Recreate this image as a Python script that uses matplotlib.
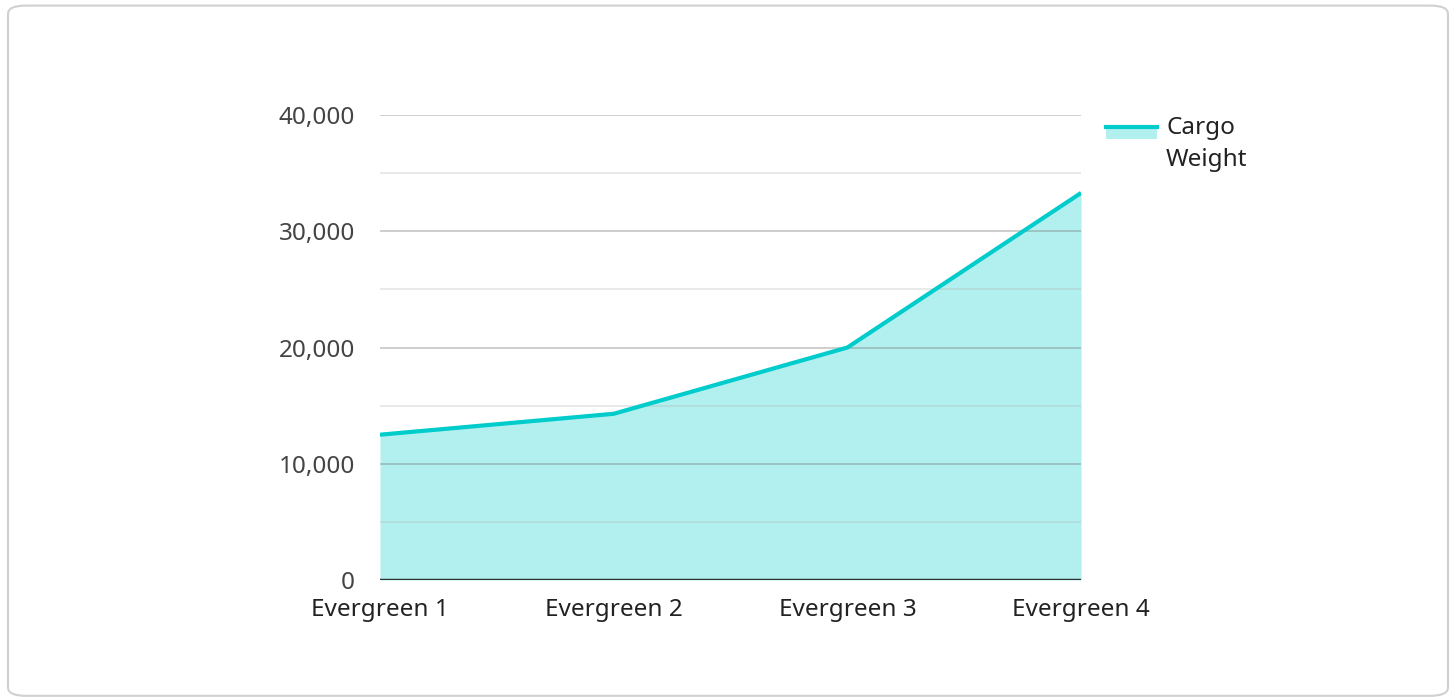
import matplotlib
matplotlib.use("Agg")
import matplotlib.pyplot as plt
from matplotlib.patches import FancyBboxPatch, Rectangle
from matplotlib.lines import Line2D
from matplotlib.legend_handler import HandlerBase

plt.rcParams['font.family'] = ['Noto Sans', 'DejaVu Sans']

# Datos
categorias = ["Evergreen 1", "Evergreen 2", "Evergreen 3", "Evergreen 4"]
peso_carga = [12500, 14300, 20000, 33300]
serie = "Cargo\nWeight"

linea_color = '#00cccc'
relleno_color = '#b2efef'


# Icono de leyenda: franja rellena con la linea arriba, alineada con la primera linea de texto
class HandlerArea(HandlerBase):
    def create_artists(self, legend, orig, xd, yd, w, h, fontsize, trans):
        top = -yd + h * 0.8 + 8.6
        rect = Rectangle((-xd + 2, top - 8), w, 8, facecolor=relleno_color,
                         edgecolor='none', transform=trans)
        ln = Line2D([-xd + 2, -xd + 2 + w], [top, top], color=linea_color,
                    lw=3, transform=trans)
        return [rect, ln]


fig = plt.figure(figsize=(14.56, 7), dpi=100)
fig.patches.append(FancyBboxPatch((0.0055, 0.006), 0.989, 0.986,
                                  boxstyle="round,pad=0,rounding_size=0.012",
                                  transform=fig.transFigure, facecolor='white',
                                  edgecolor='#d0d0d0', lw=1.5, zorder=-10))

ax = fig.add_axes([0.261, 0.1714, 0.4815, 0.6643])
ax.set_facecolor('none')
x = range(len(categorias))
ax.fill_between(x, peso_carga, color=relleno_color, zorder=1, lw=0)
ax.plot(x, peso_carga, color=linea_color, lw=3, zorder=3, solid_capstyle='butt')

ax.set_xlim(0, len(categorias) - 1)
ax.set_ylim(0, 40000)
ax.set_yticks([0, 10000, 20000, 30000, 40000])
ax.set_yticklabels(["0", "10,000", "20,000", "30,000", "40,000"])
ax.set_xticks(list(x))
ax.set_xticklabels(categorias)

# Rejilla por encima del relleno
for v in [10000, 20000, 30000, 40000]:
    ax.axhline(v, color='#7a7a7a', alpha=0.4, lw=1.3, zorder=2)
for v in [5000, 15000, 25000, 35000]:
    ax.axhline(v, color='#b0b0b0', alpha=0.3, lw=1.3, zorder=2)
ax.axhline(0, color='#333333', lw=2.5, zorder=4)

for s in ax.spines.values():
    s.set_visible(False)
ax.tick_params(axis='both', which='both', length=0)
ax.tick_params(axis='y', labelsize=17.5, labelcolor='#444444', pad=18)
ax.tick_params(axis='x', labelsize=17.5, labelcolor='#222222', pad=13)

leg = ax.legend([object()], [serie], handler_map={object: HandlerArea()},
                loc='upper left', bbox_to_anchor=(1.0, 1.045), frameon=False,
                fontsize=17.5, handlelength=2.1, handletextpad=0.5,
                labelcolor='#222222', borderaxespad=0.5)
for t in leg.get_texts():
    t.set_linespacing(1.45)

fig.savefig("out.png", dpi=100)
